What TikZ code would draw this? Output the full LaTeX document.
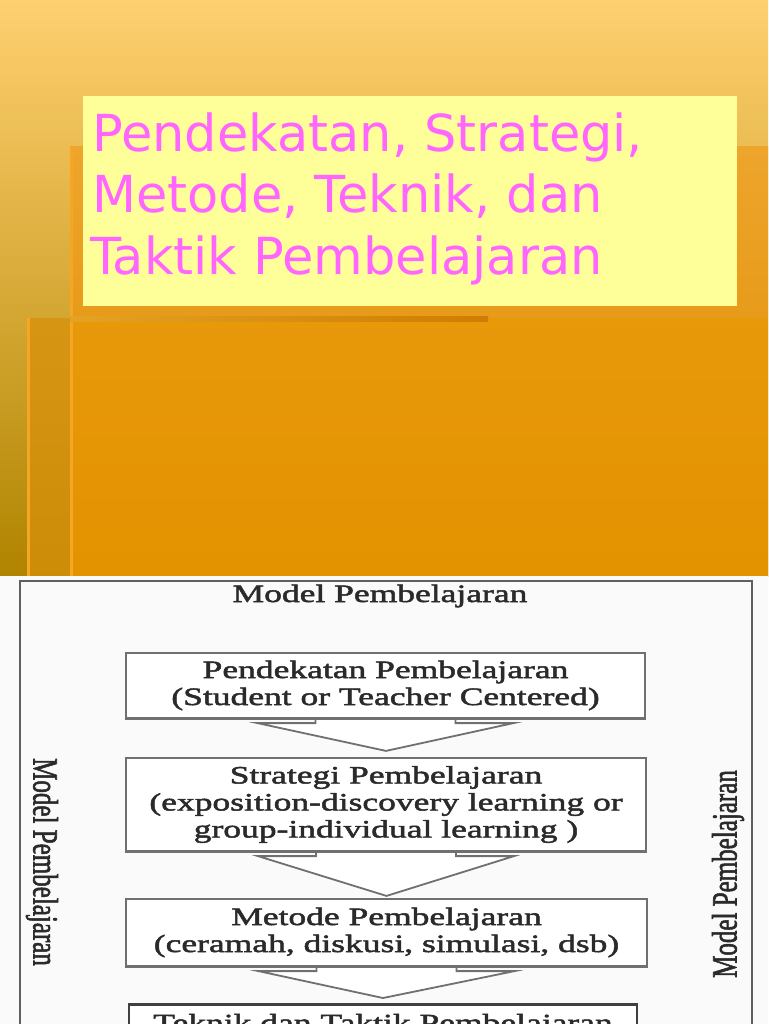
\documentclass[tikz,border=0pt]{standalone}
\usepackage{fontspec}
\usepackage{graphicx}
\usetikzlibrary{calc}
\newfontfamily\slidefont{DejaVu Sans}
\newfontfamily\scanfont[FakeStretch=1.42,FakeBold=2]{Liberation Serif}
\newfontfamily\scanside[FakeBold=2]{Liberation Serif}
\definecolor{slidetop}{HTML}{FFD070}
\definecolor{slidebottom}{HTML}{B08400}
\definecolor{panetop}{HTML}{EEA52C}
\definecolor{panebottom}{HTML}{DD8C00}
\definecolor{lowpane}{HTML}{E89800}
\definecolor{lowleft}{HTML}{D8900A}
\definecolor{edgelight}{HTML}{F7A623}
\definecolor{barlight}{HTML}{E4A224}
\definecolor{bardark}{HTML}{CF7D00}
\definecolor{titleyellow}{HTML}{FFFF99}
\definecolor{titlepink}{HTML}{FF66FF}
\definecolor{scanbg}{HTML}{FAFAFA}
\definecolor{scanline}{HTML}{707070}
\definecolor{scandark}{HTML}{404040}
\definecolor{scantext}{HTML}{2A2A2A}
\tikzset{
  titleline/.style={anchor=base west, inner sep=0pt, text=titlepink,
    font=\slidefont\fontsize{51}{61}\selectfont},
  scanbox/.style={draw=scanline, line width=2.2pt, fill=white, inner sep=0pt,
    align=center, text=scantext, font=\scanfont\fontsize{25}{27}\selectfont},
  scanlabel/.style={inner sep=0pt, text=scantext,
    font=\scanfont\fontsize{25}{27}\selectfont},
  arrowline/.style={draw=scanline, line width=1.8pt, fill=white, line join=miter}
}
\def\blockarrow(#1)(#2)(#3){\draw[arrowline] ($(#1.south)+(-70,0)$) -- ($(#1.south)+(-70,4)$) -- ($(#1.south)+(-128,4)$) -- ($(#2.north)+(0,-#3)$) -- ($(#1.south)+(128,4)$) -- ($(#1.south)+(70,4)$) -- ($(#1.south)+(70,0)$);}

\begin{document}
\begin{tikzpicture}[x=1pt, y=-1pt]
	%%%%% START %%%%%
	\useasboundingbox (0,0) rectangle (768,1024);
	\clip (0,0) rectangle (768,1024);

	% slide background
	\fill[top color=slidetop, bottom color=slidebottom] (0,0) rectangle (768,576);
	\fill[top color=panetop, bottom color=panebottom] (70,147) rectangle (768,576);
	\fill[lowpane, opacity=0.6] (70,318) rectangle (768,576);
	\fill[lowleft, opacity=0.75] (27,318) rectangle (70,576);
	\fill[edgelight] (70,147) rectangle (73,576);
	\fill[edgelight] (27,318) rectangle (30,576);
	\fill[left color=barlight, right color=bardark] (70,316) rectangle (488,321);

	% title
	\fill[titleyellow] (83,96) rectangle (737,306);
	\node[titleline] (title1) at (92,152) {Pendekatan, Strategi,};
	\node[titleline] (title2) at (92,213) {Metode, Teknik, dan};
	\node[titleline] (title3) at (90,274) {Taktik Pembelajaran};

	% scanned figure
	\fill[scanbg] (0,576) rectangle (768,1024);
	\draw[scanline!85!black, line width=2.5pt] (20,581) rectangle (752,1060);

	\node[scanlabel, anchor=base] (modeltop) at (380,602) {Model Pembelajaran};
	\node[scanlabel, rotate=-90] (modelleft) at (42,862) {\scalebox{1}[1.42]{\scanside Model Pembelajaran}};
	\node[scanlabel, rotate=90] (modelright) at (728,874) {\scalebox{1}[1.42]{\scanside Model Pembelajaran}};

	\node[scanbox, minimum width=519pt, minimum height=65pt] (pendekatan) at (385.5,685.5)
		{Pendekatan Pembelajaran\\(Student or Teacher Centered)};
	\node[scanbox, minimum width=520pt, minimum height=93pt] (strategi) at (386,804.5)
		{Strategi Pembelajaran\\(exposition-discovery learning or\\group-individual learning )};
	\node[scanbox, minimum width=521pt, minimum height=67pt] (metode) at (386.5,932.5)
		{Metode Pembelajaran\\(ceramah, diskusi, simulasi, dsb)};
	\node[scanbox, draw=scandark, line width=2.5pt, anchor=north, minimum width=508pt,
		text height=18pt, text depth=40pt, inner ysep=9pt] (teknik) at (383,1003)
		{Teknik dan Taktik Pembelajaran};

	\blockarrow(pendekatan)(strategi)(6)
	\blockarrow(strategi)(metode)(2)
	\blockarrow(metode)(teknik)(5)

	% boxes again over the arrow shafts
	\draw[scanline, line width=2.2pt] (pendekatan.south west) -- (pendekatan.south east);
	\draw[scanline, line width=2.2pt] (strategi.south west) -- (strategi.south east);
	\draw[scanline, line width=2.2pt] (metode.south west) -- (metode.south east);
	%%%%% END %%%%%
\end{tikzpicture}
\end{document}
